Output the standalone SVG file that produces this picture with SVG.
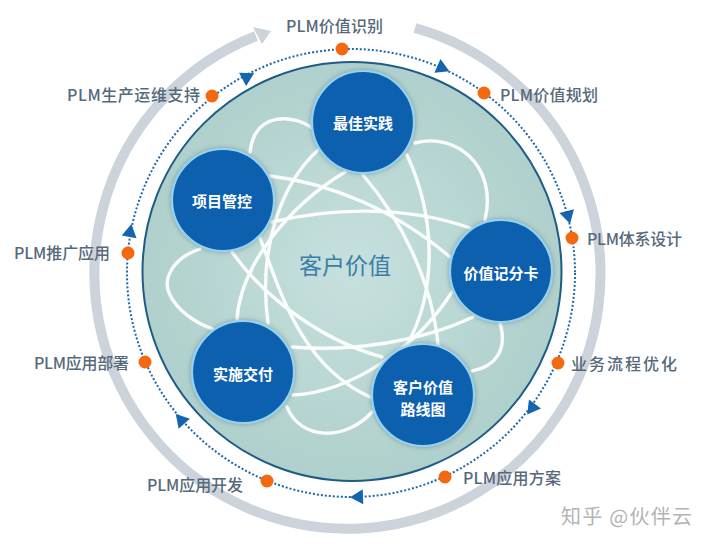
<svg xmlns="http://www.w3.org/2000/svg" width="709" height="545" viewBox="0 0 709 545">
<style>
.lbl{font-family:"Noto Sans CJK SC","Liberation Sans",sans-serif;font-size:16px;font-weight:500;fill:#56697a}
.nt{font-family:"Noto Sans CJK SC","Liberation Sans",sans-serif;font-size:15px;font-weight:700;fill:#fff;text-anchor:middle}
.node{fill:#0a60ae;stroke:#93d2f2;stroke-width:2.2;filter:url(#sh)}
.curve{fill:none;stroke:#fff;stroke-width:3.4;stroke-linecap:round;opacity:.95}
.dot{fill:#f4690f}
.tri{fill:#1464ae}
</style>
<defs>
<radialGradient id="disc" gradientUnits="userSpaceOnUse" cx="350" cy="270" r="210">
<stop offset="0" stop-color="#c7e0de"/><stop offset=".45" stop-color="#bcd9d6"/><stop offset="1" stop-color="#afd0cc"/>
</radialGradient>
<filter id="sh" x="-20%" y="-20%" width="140%" height="140%"><feDropShadow dx="0" dy="0" stdDeviation="2.5" flood-color="#5a6a6a" flood-opacity=".55"/></filter>
<polygon id="a" points="8,0 -5,-7.5 -5,7.5"/>
</defs>
<rect width="709" height="545" fill="#fff"/>
<g id="outer-ring">
<path d="M415,28 A253,255 0 1 1 256,36" fill="none" stroke="#cdd3db" stroke-width="10"/>
<polygon points="253,27 271,31 262,44" fill="#cdd3db"/>
</g>
<g id="disc-base">
<circle cx="352" cy="271.5" r="209.5" fill="url(#disc)" stroke="#1f5c85" stroke-width="2"/>
</g>
<g id="connectors">
<circle cx="351" cy="273" r="224" fill="none" stroke="#1f66a8" stroke-width="2" stroke-dasharray="2 2"/>
<g class="tri">
<use href="#a" transform="translate(247,77) rotate(-28)"/>
<use href="#a" transform="translate(442,68) rotate(24)"/>
<use href="#a" transform="translate(568,216) rotate(75)"/>
<use href="#a" transform="translate(532,408) rotate(127)"/>
<use href="#a" transform="translate(358,497) rotate(178)"/>
<use href="#a" transform="translate(181,420) rotate(229)"/>
<use href="#a" transform="translate(130,232) rotate(-80)"/>
</g>
<g class="curve">
<path d="M312,128 C295,115 255,110 250,152"/>
<path d="M415,143 C455,132 498,165 485,220"/>
<path d="M200,249 C172,258 162,280 170,295 C177,310 195,323 213,329"/>
<path d="M500,323 C508,350 495,367 472,371"/>
<path d="M287,407 C300,440 345,442 372,412"/>
<path d="M318,150 C280,185 258,250 268,323"/>
<path d="M345,172 C290,205 240,265 237,320"/>
<path d="M270,176 C330,183 395,210 450,257"/>
<path d="M272,222 C330,208 405,205 470,228"/>
<path d="M232,252 C262,295 320,340 382,357"/>
<path d="M260,238 C280,290 300,365 370,397"/>
<path d="M363,175 C400,218 432,280 438,345"/>
<path d="M407,155 C435,215 438,290 407,345"/>
<path d="M292,347 C350,352 420,342 473,317"/>
<path d="M293,395 C350,392 415,350 452,292"/>
</g>
</g>
<g id="center"><text x="345" y="274" text-anchor="middle" font-family="'Noto Sans CJK SC','Liberation Sans',sans-serif" font-size="23" fill="#3a7ea8">客户价值</text></g>
<g id="n-best"><circle class="node" cx="363" cy="122" r="51"/><text class="nt" x="363" y="129">最佳实践</text></g>
<g id="n-control"><circle class="node" cx="223" cy="200" r="51"/><text class="nt" x="222" y="207">项目管控</text></g>
<g id="n-score"><circle class="node" cx="501" cy="271" r="51"/><text class="nt" x="501" y="279">价值记分卡</text></g>
<g id="n-road"><circle class="node" cx="423" cy="395" r="51"/><text class="nt" x="423" y="393">客户价值</text><text class="nt" x="423" y="415">路线图</text></g>
<g id="n-deliver"><circle class="node" cx="243" cy="372" r="51"/><text class="nt" x="243" y="380">实施交付</text></g>
<g id="s1"><circle class="dot" cx="342" cy="49" r="6.5"/><text class="lbl" x="286" y="32" textLength="97">PLM价值识别</text></g>
<g id="s2"><circle class="dot" cx="484" cy="93" r="6.5"/><text class="lbl" x="500" y="101" textLength="98">PLM价值规划</text></g>
<g id="s3"><circle class="dot" cx="572" cy="238" r="6.5"/><text class="lbl" x="587" y="245" textLength="95">PLM体系设计</text></g>
<g id="s4"><circle class="dot" cx="558" cy="363" r="6.5"/><text class="lbl" x="571" y="370" textLength="106">业务流程优化</text></g>
<g id="s5"><circle class="dot" cx="445" cy="477" r="6.5"/><text class="lbl" x="463" y="484" textLength="98">PLM应用方案</text></g>
<g id="s6"><circle class="dot" cx="267" cy="481" r="6.5"/><text class="lbl" x="147" y="491" textLength="96">PLM应用开发</text></g>
<g id="s7"><circle class="dot" cx="145" cy="362" r="6.5"/><text class="lbl" x="34" y="369" textLength="95">PLM应用部署</text></g>
<g id="s8"><circle class="dot" cx="128" cy="253" r="6.5"/><text class="lbl" x="14" y="259" textLength="96">PLM推广应用</text></g>
<g id="s9"><circle class="dot" cx="212" cy="96" r="6.5"/><text class="lbl" x="67" y="101" textLength="133">PLM生产运维支持</text></g>
<text x="561" y="524" font-family="'Noto Sans CJK SC','Liberation Sans',sans-serif" font-size="20" fill="#b4b4b4" textLength="131">知乎 @伙伴云</text>
</svg>
